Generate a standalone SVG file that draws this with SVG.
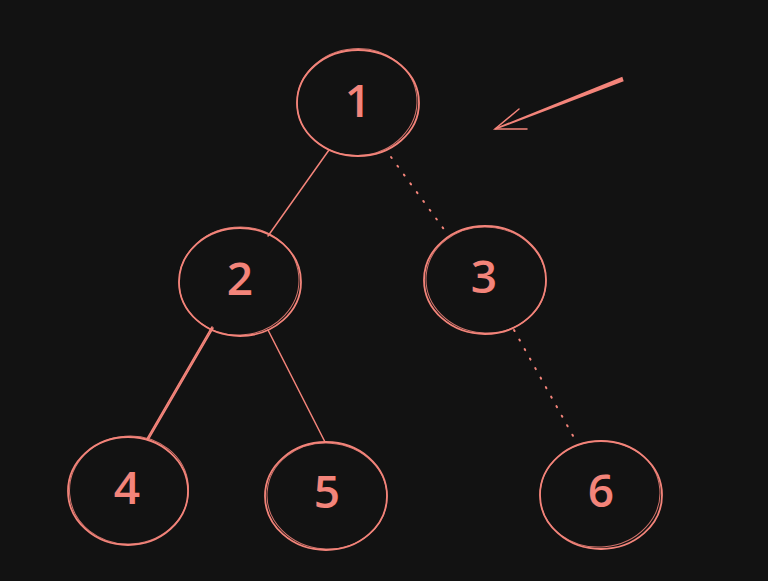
<svg xmlns="http://www.w3.org/2000/svg" width="768" height="581" viewBox="0 0 768 581">
<style>
.bg{fill:#121212}
.ring{fill:none;stroke:#f3847a;stroke-width:1.8;stroke-linecap:round}
.ring2{fill:none;stroke:#f3847a;stroke-width:1;opacity:.85}
.edge{stroke:#f3847a;stroke-width:1.5;stroke-linecap:round;fill:none}
.dot{stroke:#f3847a;stroke-width:2;stroke-linecap:round;stroke-dasharray:1.2 9.7;fill:none}
.lbl{font-family:"Open Sans","Liberation Sans",sans-serif;font-weight:600;font-size:46px;fill:#f3847a;text-anchor:middle}
</style>
<rect class="bg" x="0" y="0" width="768" height="581"/>
<g id="connectors">
<line class="edge" x1="329" y1="150" x2="268" y2="236"/>
<line class="dot" x1="391" y1="157" x2="446" y2="232"/>
<line class="edge" x1="212" y1="327" x2="147" y2="439"/>
<line class="edge" x1="213" y1="328" x2="148.5" y2="439"/>
<line class="edge" x1="268" y1="330" x2="325" y2="442"/>
<line class="dot" x1="514" y1="330" x2="577" y2="443"/>
</g>
<g id="arrow">
<polygon points="623.7,81.2 622.3,76.8 494.7,128.3 495.3,129.7" fill="#f3847a"/>
<path class="edge" d="M519,109 L495,129 L527,129" stroke-width="2.2"/>
</g>
<g id="node1">
<ellipse class="ring" cx="358" cy="103" rx="61" ry="53"/>
<ellipse class="ring2" cx="357" cy="102" rx="60" ry="53.5" transform="rotate(-4 357 102)"/>
<text class="lbl" x="358" y="117">1</text>
</g>
<g id="node2">
<ellipse class="ring" cx="240" cy="282" rx="61" ry="54"/>
<ellipse class="ring2" cx="239" cy="281" rx="60" ry="54" transform="rotate(-5 239 281)"/>
<text class="lbl" x="240" y="295">2</text>
</g>
<g id="node3">
<ellipse class="ring" cx="485" cy="280" rx="61" ry="54"/>
<ellipse class="ring2" cx="486" cy="280" rx="60" ry="53" transform="rotate(4 486 280)"/>
<text class="lbl" x="484" y="293">3</text>
</g>
<g id="node4">
<ellipse class="ring" cx="128" cy="491" rx="60" ry="54"/>
<ellipse class="ring2" cx="129" cy="490" rx="59.5" ry="54" transform="rotate(-4 129 490)"/>
<text class="lbl" x="127" y="504">4</text>
</g>
<g id="node5">
<ellipse class="ring" cx="326" cy="496" rx="61" ry="54"/>
<ellipse class="ring2" cx="327" cy="496" rx="60" ry="53" transform="rotate(4 327 496)"/>
<text class="lbl" x="327" y="508">5</text>
</g>
<g id="node6">
<ellipse class="ring" cx="601" cy="495" rx="61" ry="54"/>
<ellipse class="ring2" cx="600" cy="494" rx="60" ry="53" transform="rotate(-5 600 494)"/>
<text class="lbl" x="601" y="507">6</text>
</g>
</svg>
